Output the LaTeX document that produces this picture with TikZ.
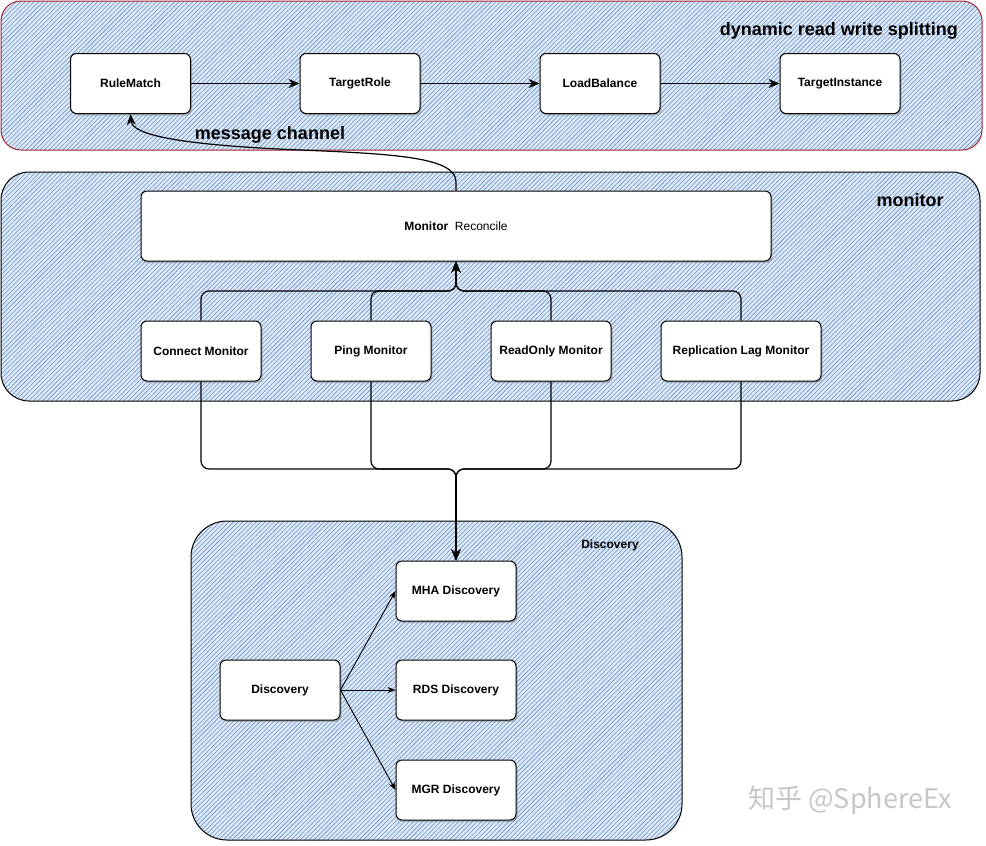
\documentclass[tikz,border=0pt]{standalone}
\usepackage{fontspec}
\setmainfont{Liberation Sans}
\newfontfamily\cjkfont{Noto Sans CJK SC}
\usetikzlibrary{arrows.meta,patterns.meta,shadows,calc}
\definecolor{hatchbase}{RGB}{222,234,247}
\definecolor{hatchline}{RGB}{122,158,204}
\definecolor{myred}{RGB}{160,40,50}
\begin{document}
\begin{tikzpicture}[x=1pt,y=-1pt,
  group/.style={draw=black, line width=1pt, rounded corners=#1,
    preaction={fill=hatchbase},
    pattern={Lines[angle=45,distance=3.2pt,line width=0.75pt]},
    pattern color=hatchline, inner sep=0pt},
  box/.style={draw=black, line width=1pt, fill=white, rounded corners=6pt,
    minimum width=120pt, minimum height=60pt, inner sep=2pt,
    font=\bfseries\fontsize{12}{14}\selectfont,
    drop shadow={shadow xshift=1.5pt, shadow yshift=-2pt, opacity=0.45}},
  grplabel/.style={font=\bfseries\fontsize{18}{21}\selectfont, inner sep=0pt},
  conn/.style={line width=1.2pt, -{Stealth[length=11pt,width=9pt]}},
  thin/.style={line width=0.9pt, -{Stealth[length=8pt,width=6pt]}}
]
\useasboundingbox (0,0) rectangle (986,846);

% containers
\node[group=20pt, draw=myred, minimum width=981pt, minimum height=149pt] (top) at (491.5,75.5) {};
\node[group=28pt, minimum width=979pt, minimum height=229pt] (mon) at (490.5,286.5) {};
\node[group=36pt, minimum width=491pt, minimum height=319pt] (dgrp) at (436.5,680.5) {};

% container labels
\node[grplabel, anchor=east] (ltop) at (958,31) {dynamic read write splitting};
\node[grplabel] (lmsg) at (270,135) {message channel};
\node[grplabel] (lmon) at (910,200) {monitor};
\node[inner sep=0pt, font=\bfseries\fontsize{12}{14}\selectfont] (ldisc) at (610,545) {Discovery};

% top row
\node[box] (rm) at (130.5,83.5) {RuleMatch};
\node[box] (tr) at (360,83.5) {TargetRole};
\node[box] (lb) at (600,83.5) {LoadBalance};
\node[box] (ti) at (840,83.5) {TargetInstance};

% monitor
\node[box, minimum width=630pt, minimum height=70pt, font=\fontsize{12}{14}\selectfont] (rec) at (456,226) {\textbf{Monitor}\ \ Reconcile};
\node[box] (cm) at (201,351) {Connect Monitor};
\node[box] (pm) at (371,351) {Ping Monitor};
\node[box] (ro) at (551,351) {ReadOnly Monitor};
\node[box, minimum width=160pt] (rl) at (741,351) {Replication Lag Monitor};

% discovery
\node[box] (disc) at (280,690) {Discovery};
\node[box] (mha) at (456,591) {MHA Discovery};
\node[box] (rds) at (456,690) {RDS Discovery};
\node[box] (mgr) at (456,790) {MGR Discovery};

\coordinate (jtop) at (456,291);
\coordinate (jbot) at (456,469);

% top chain
\draw[conn] (rm) -- (tr);
\draw[conn] (tr) -- (lb);
\draw[conn] (lb) -- (ti);

% message channel
\draw[conn] (rec.north) -- (456,182) .. controls (456,158) and (400,154) .. (300,150)
  .. controls (180,145) and (132,135) .. (rm.south);

% monitors -> reconcile
\foreach \m in {cm,pm,ro,rl}{
  \draw[conn, rounded corners=8pt] (\m.north) |- (jtop) -- (rec.south);
}
% monitors -> MHA discovery
\foreach \m in {cm,pm,ro,rl}{
  \draw[conn, rounded corners=8pt] (\m.south) |- (jbot) -- (mha.north);
}
\draw[line width=2.2pt] ($(jbot)+(0,6)$) -- ($(mha.north)+(0,-8)$);

% discovery fan-out
\draw[thin] (disc.east) -- (mha.west);
\draw[thin] (disc.east) -- (rds.west);
\draw[thin] (disc.east) -- (mgr.west);

% watermark
\node[inner sep=0pt, text=gray!45, font=\cjkfont\fontsize{27}{30}\selectfont] (wm) at (850,800) {知乎 @SphereEx};
\end{tikzpicture}
\end{document}
